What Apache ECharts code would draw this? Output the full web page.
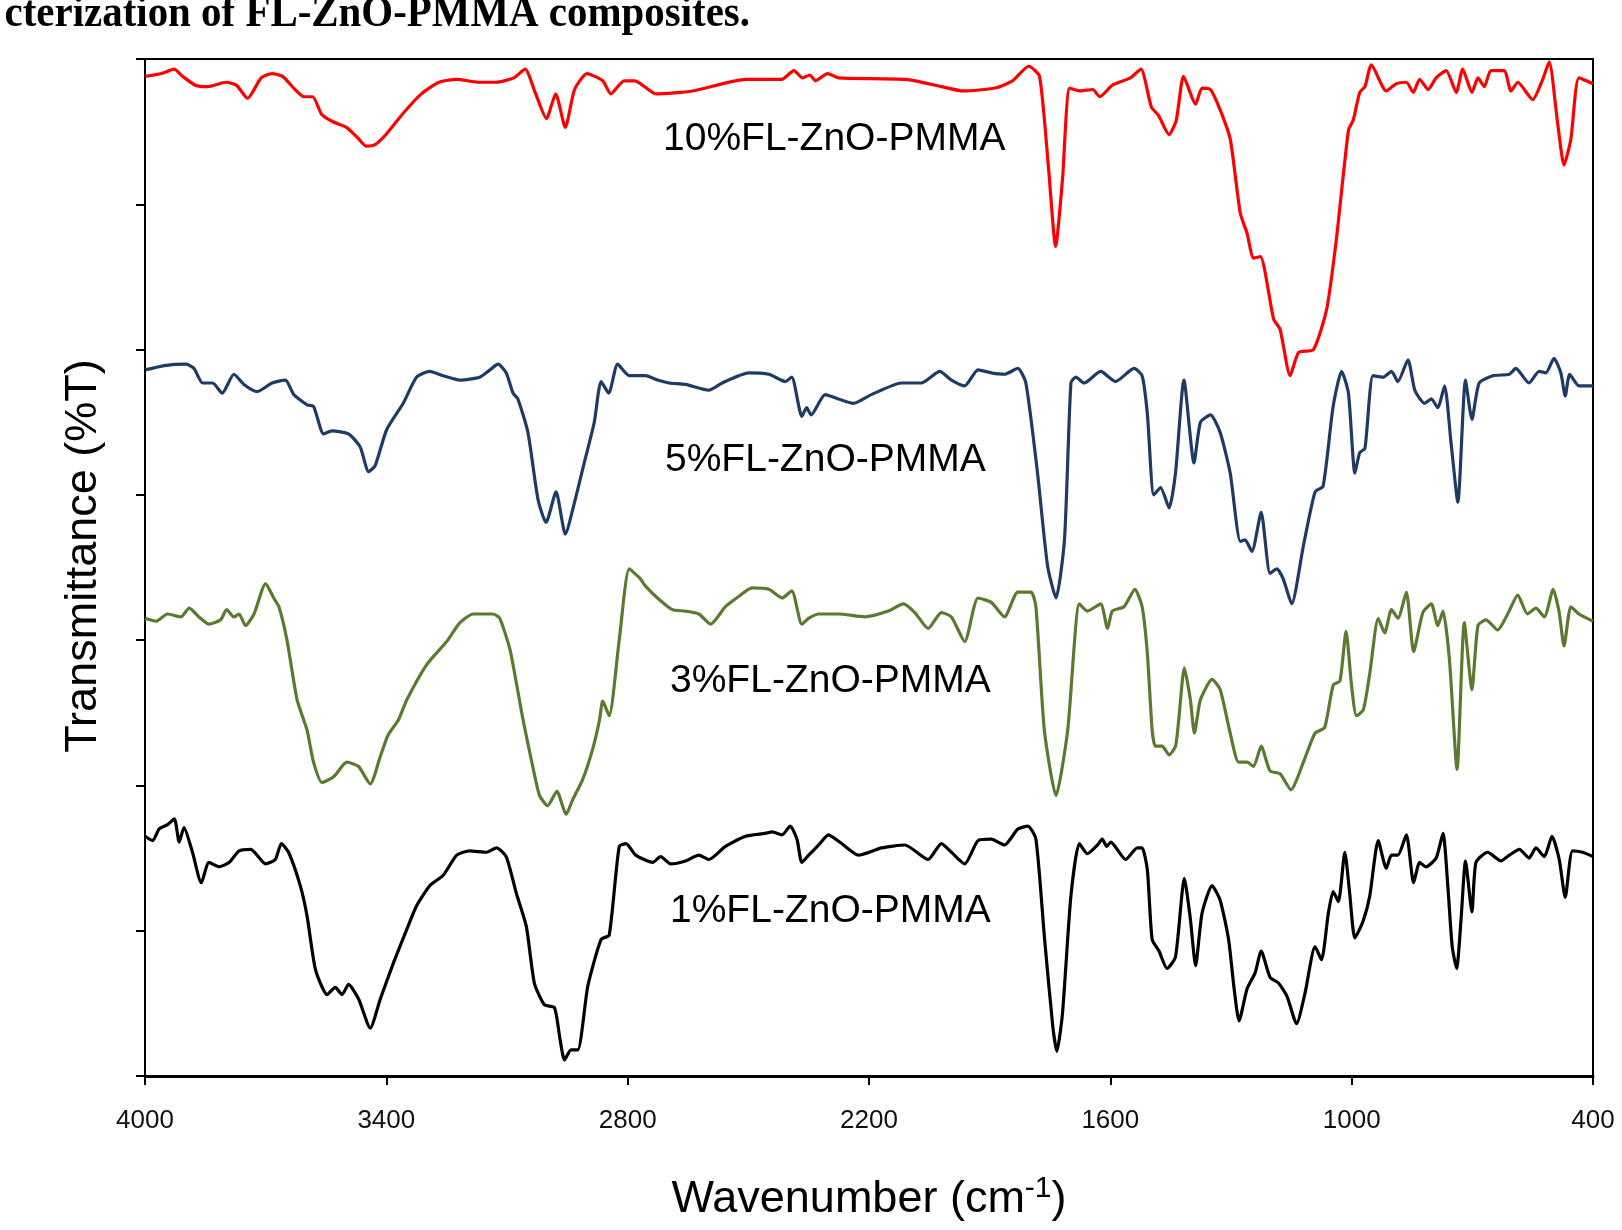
<!DOCTYPE html>
<html>
<head>
<meta charset="utf-8">
<title>FTIR FL-ZnO-PMMA</title>
<script src="https://cdn.jsdelivr.net/npm/echarts@6/dist/echarts.min.js"></script>
<style>
html, body { margin: 0; padding: 0; background: #fff; }
#main { width: 1622px; height: 1230px; }
</style>
</head>
<body>
<div id="main"></div>
<script>
// wavenumber (cm-1) and offset transmittance
var xTicks = [400, 1000, 1600, 2200, 2800, 3400, 4000];

var wn10 = [4000,3959,3928,3906,3875,3844,3799,3773,3745,3711,3684,3658,3627,3605,3583,3561,3534,3499,3472,3450,
  3428,3401,3357,3313,3269,3225,3171,3127,3083,3055,3030,3002,2979,2955,2932,2901,2862,2842,2809,2782,
  2729,2639,2506,2417,2387,2365,2347,2333,2303,2276,2108,2019,1966,1887,1843,1803,1776,1754,1736,1719,
  1701,1674,1644,1626,1595,1550,1524,1498,1480,1454,1436,1418,1388,1372,1351,1327,1302,1277,1260,1244,
  1227,1194,1178,1153,1132,1095,1062,1038,1008,996,980,967,951,914,889,864,847,831,810,790,
  765,740,724,701,686,670,654,621,604,587,550,525,509,488,472,455,435,400];
var t10 = [68.8,69.0,69.3,68.8,68.2,68.1,68.4,68.2,67.3,68.7,69.0,68.8,67.9,67.4,67.4,66.2,65.7,65.3,64.6,64.0,
  64.1,64.8,66.3,67.6,68.4,68.6,68.4,68.4,68.7,69.3,67.7,65.9,67.6,65.3,67.9,69.0,68.5,67.6,68.5,68.5,
  67.6,67.8,68.6,68.6,69.2,68.7,68.9,68.5,69.0,68.7,68.6,68.1,67.8,68.0,68.5,69.5,68.8,62.6,57.1,61.7,
  68.0,67.8,67.9,67.4,68.2,68.7,69.3,66.7,66.1,64.8,65.8,68.8,66.9,68.0,67.9,66.5,64.5,59.4,58.0,56.3,
  56.4,52.1,51.4,48.2,49.8,50.0,52.8,57.6,65.1,65.8,67.7,68.1,69.6,67.8,68.3,68.4,67.7,68.6,67.9,68.7,
  69.2,67.7,69.3,67.7,68.7,68.1,69.2,69.2,67.8,68.4,67.2,68.6,69.8,65.6,62.7,64.5,68.7,68.3];

var wn5 = [4000,3952,3898,3878,3857,3832,3808,3779,3754,3721,3684,3651,3630,3597,3581,3556,3535,3494,3465,3444,
  3428,3399,3358,3325,3292,3259,3217,3168,3147,3122,3102,3085,3073,3048,3023,3003,2978,2955,2932,2908,
  2883,2866,2847,2825,2796,2755,2726,2697,2656,2598,2565,2499,2449,2408,2392,2367,2355,2344,2309,2276,
  2239,2194,2119,2070,2024,1995,1962,1929,1896,1863,1830,1810,1781,1756,1735,1714,1698,1686,1665,1624,
  1587,1541,1521,1508,1492,1475,1454,1438,1417,1392,1376,1351,1327,1302,1277,1265,1248,1225,1203,1186,
  1170,1149,1120,1091,1071,1046,1025,1008,992,980,967,947,922,901,885,860,843,819,802,786,
  769,753,736,717,701,683,649,608,592,559,534,517,497,480,469,458,435,400];
var t5 = [48.6,48.9,49.0,48.7,47.7,47.7,47.0,48.3,47.6,47.1,47.7,47.9,46.9,46.2,46.1,44.2,44.4,44.2,43.3,41.6,
  42.0,44.5,46.3,48.1,48.5,48.2,47.9,48.1,48.5,49.0,48.4,47.0,46.6,44.3,39.7,38.1,40.2,37.3,39.5,42.2,
  45.0,47.8,47.0,49.0,48.2,48.2,47.9,47.7,47.6,47.2,47.7,48.4,48.3,47.8,48.1,45.4,46.0,45.5,46.9,46.6,
  46.3,46.9,47.7,47.7,48.5,47.9,47.5,48.6,48.4,48.3,48.7,47.7,41.5,35.1,32.9,36.9,47.7,48.1,47.7,48.5,
  47.8,48.7,48.2,45.6,40.0,40.5,39.1,41.5,47.9,42.2,45.0,45.5,44.3,41.5,36.8,36.9,36.1,38.8,34.6,34.9,
  34.2,32.5,36.5,40.2,40.6,46.1,48.5,47.0,41.5,42.9,43.2,48.2,48.1,48.5,47.8,49.3,47.2,46.3,46.6,46.0,
  47.5,43.6,39.5,47.9,45.2,47.7,48.2,48.3,48.7,47.7,48.5,48.4,49.4,48.4,46.8,48.3,47.5,47.5];

var wn3 = [4000,3973,3944,3911,3890,3866,3841,3812,3797,3779,3766,3750,3729,3700,3680,3667,3647,3622,3597,3581,
  3560,3531,3498,3469,3440,3415,3395,3370,3349,3300,3250,3217,3184,3135,3118,3093,3077,3060,3036,3019,
  2999,2976,2953,2937,2912,2887,2870,2862,2846,2821,2796,2771,2755,2726,2689,2656,2623,2594,2557,2524,
  2491,2449,2416,2392,2367,2350,2325,2276,2210,2152,2115,2086,2053,2020,1995,1962,1929,1896,1863,1830,
  1797,1785,1764,1735,1706,1677,1657,1624,1607,1595,1566,1539,1521,1508,1496,1488,1471,1454,1438,1430,
  1416,1401,1391,1376,1347,1327,1302,1281,1260,1244,1225,1203,1178,1151,1120,1091,1067,1046,1029,1014,
  1000,988,971,955,934,918,901,885,864,846,823,802,786,773,757,738,720,701,686,666,
  637,612,587,563,542,521,499,484,472,455,435,400];
var t3 = [31.5,31.3,31.8,31.6,32.2,31.6,31.1,31.4,32.1,31.6,31.8,31.0,31.8,33.9,32.9,32.3,30.0,25.9,23.8,21.6,
  20.2,20.6,21.6,21.3,20.1,22.0,23.5,24.5,25.9,28.3,29.9,31.2,31.8,31.8,31.5,29.4,27.1,24.5,21.3,19.3,
  18.6,19.6,18.0,19.0,20.4,22.5,24.5,25.8,24.8,30.0,34.9,34.3,33.7,32.9,32.1,32.0,31.8,31.1,32.3,33.0,
  33.6,33.5,32.9,33.4,31.1,31.5,31.8,31.8,31.6,32.0,32.5,31.9,30.8,31.9,31.6,29.9,32.9,32.6,31.6,33.3,
  33.3,32.3,23.8,19.3,23.8,32.5,32.0,32.5,30.8,32.0,32.3,33.5,32.3,29.1,23.8,22.7,22.7,22.1,22.7,24.5,
  28.1,25.9,23.6,25.9,27.3,26.6,23.6,21.6,21.6,21.3,22.7,21.0,20.8,19.7,21.6,23.6,24.0,26.9,27.2,30.6,
  26.8,24.8,25.2,27.7,31.5,30.5,32.1,31.5,33.3,29.2,31.9,32.5,31.0,32.0,28.7,21.1,31.2,26.6,31.0,31.4,
  30.7,31.8,33.1,31.8,32.2,31.6,33.5,31.9,29.6,32.3,31.8,31.3];

var wn1 = [4000,3981,3965,3944,3927,3915,3903,3882,3860,3841,3816,3791,3766,3737,3700,3676,3661,3643,3614,3597,
  3576,3547,3527,3510,3494,3469,3440,3415,3382,3349,3325,3292,3259,3225,3192,3151,3126,3102,3077,3052,
  3032,3007,2982,2968,2957,2941,2924,2899,2866,2846,2821,2804,2780,2738,2718,2693,2656,2623,2598,2557,
  2507,2458,2441,2416,2396,2379,2367,2350,2325,2301,2268,2226,2169,2111,2053,2020,1995,1962,1929,1896,
  1863,1830,1805,1785,1764,1743,1733,1719,1698,1677,1657,1632,1620,1609,1599,1562,1533,1521,1508,1496,
  1479,1459,1438,1416,1401,1388,1372,1347,1327,1306,1293,1280,1260,1240,1225,1203,1182,1161,1137,1116,
  1091,1075,1058,1046,1033,1017,1005,992,971,955,934,914,901,885,864,846,831,815,790,773,
  761,750,739,728,717,701,691,662,629,608,583,559,542,521,502,484,469,451,426,400];
var t1 = [16.5,16.2,17.0,17.3,17.7,16.1,17.1,15.4,13.3,14.7,14.4,14.7,15.5,15.6,14.6,14.9,16.0,15.4,13.1,11.0,
  7.3,5.6,6.1,5.6,6.3,5.3,3.3,5.3,7.8,10.1,11.7,13.1,13.8,15.2,15.5,15.4,15.7,15.1,12.6,10.3,
  6.4,4.9,4.7,2.5,1.1,1.8,1.8,6.2,9.4,9.7,15.8,16.0,15.2,14.7,15.1,14.6,14.8,15.2,14.9,15.8,
  16.5,16.7,16.8,16.6,17.2,16.3,14.7,15.2,15.9,16.6,16.0,15.2,15.7,15.9,14.9,16.0,15.4,14.6,16.2,16.3,
  15.9,17.0,17.2,16.3,9.6,3.4,1.7,4.3,12.4,16.0,15.3,15.9,16.3,15.8,16.1,14.9,15.7,15.7,14.2,9.4,
  8.6,7.4,8.2,13.6,10.8,7.6,11.2,13.1,12.1,9.4,6.2,3.8,6.0,7.1,8.6,6.8,6.4,5.5,3.6,5.7,
  8.9,8.0,11.2,12.7,12.0,15.4,12.6,9.5,10.7,12.4,16.2,14.3,15.2,15.2,16.6,13.3,14.7,14.4,15.0,16.7,
  13.1,8.9,7.4,10.8,14.8,11.3,14.7,15.4,14.8,15.2,15.6,15.0,15.7,15.1,16.5,14.9,12.3,15.5,15.4,15.1];

var seriesNames = ['10%FL-ZnO-PMMA', '5%FL-ZnO-PMMA', '3%FL-ZnO-PMMA', '1%FL-ZnO-PMMA'];
var seriesColors = ['#ff0000', '#1f3a64', '#5b7a30', '#000000'];

function pairs(wn, t) {
  return wn.map(function (w, i) { return [w, t[i]]; });
}

var spectra = [pairs(wn10, t10), pairs(wn5, t5), pairs(wn3, t3), pairs(wn1, t1)];

var myChart = echarts.init(document.getElementById('main'));

var labelFont = 'Liberation Sans, Arial, sans-serif';

var option = {
  animation: false,
  backgroundColor: '#fff',
  grid: {
    left: 145,
    right: 29,
    top: 59,
    bottom: 154,
    show: true,
    borderColor: '#000',
    borderWidth: 2
  },
  xAxis: {
    type: 'value',
    min: 400,
    max: 4000,
    interval: 600,
    inverse: true,
    axisLine: { lineStyle: { color: '#000', width: 3 } },
    axisTick: { show: true, length: 9, lineStyle: { color: '#000', width: 2 } },
    axisLabel: {
      fontSize: 26,
      color: '#111',
      margin: 32,
      fontFamily: labelFont,
      formatter: function (v) { return xTicks.indexOf(v) >= 0 ? String(v) : ''; }
    },
    splitLine: { show: false }
  },
  yAxis: {
    type: 'value',
    min: 0,
    max: 70,
    interval: 10,
    axisLine: { show: true, lineStyle: { color: '#000', width: 2 } },
    axisTick: { show: true, length: 9, lineStyle: { color: '#000', width: 2 } },
    axisLabel: { show: false },
    splitLine: { show: false }
  },
  series: spectra.map(function (d, i) {
    return {
      name: seriesNames[i],
      type: 'line',
      data: d,
      showSymbol: false,
      symbol: 'none',
      smooth: 0.2,
      lineStyle: { color: seriesColors[i], width: 3.2, join: 'round' },
      itemStyle: { color: seriesColors[i] }
    };
  }),
  graphic: [
    {
      type: 'text',
      x: 750,
      y: 15,
      scaleX: 0.93,
      style: {
        text: 'cterization of FL-ZnO-PMMA composites.',
        font: 'bold 44px "Liberation Serif", "Times New Roman", serif',
        fill: '#000',
        textAlign: 'right',
        textVerticalAlign: 'middle'
      }
    },
    {
      type: 'text',
      x: 84,
      y: 556,
      rotation: Math.PI / 2,
      style: {
        text: 'Transmittance (%T)',
        font: '45px ' + labelFont,
        fill: '#000',
        textAlign: 'center',
        textVerticalAlign: 'middle'
      }
    },
    {
      type: 'text',
      x: 869,
      y: 1200,
      style: {
        text: '{a|Wavenumber (cm}{b|-1}{a|)}',
        textAlign: 'center',
        textVerticalAlign: 'middle',
        rich: {
          a: { fontSize: 45, fontFamily: labelFont, color: '#000', lineHeight: 52 },
          b: { fontSize: 30, fontFamily: labelFont, color: '#000', verticalAlign: 'top' }
        }
      }
    },
    { type: 'text', x: 663, y: 139, style: { text: seriesNames[0], font: '39px ' + labelFont, fill: '#000', textAlign: 'left', textVerticalAlign: 'middle' } },
    { type: 'text', x: 665, y: 460, style: { text: seriesNames[1], font: '39px ' + labelFont, fill: '#000', textAlign: 'left', textVerticalAlign: 'middle' } },
    { type: 'text', x: 670, y: 681, style: { text: seriesNames[2], font: '39px ' + labelFont, fill: '#000', textAlign: 'left', textVerticalAlign: 'middle' } },
    { type: 'text', x: 670, y: 911, style: { text: seriesNames[3], font: '39px ' + labelFont, fill: '#000', textAlign: 'left', textVerticalAlign: 'middle' } }
  ]
};

myChart.setOption(option);
</script>
</body>
</html>
